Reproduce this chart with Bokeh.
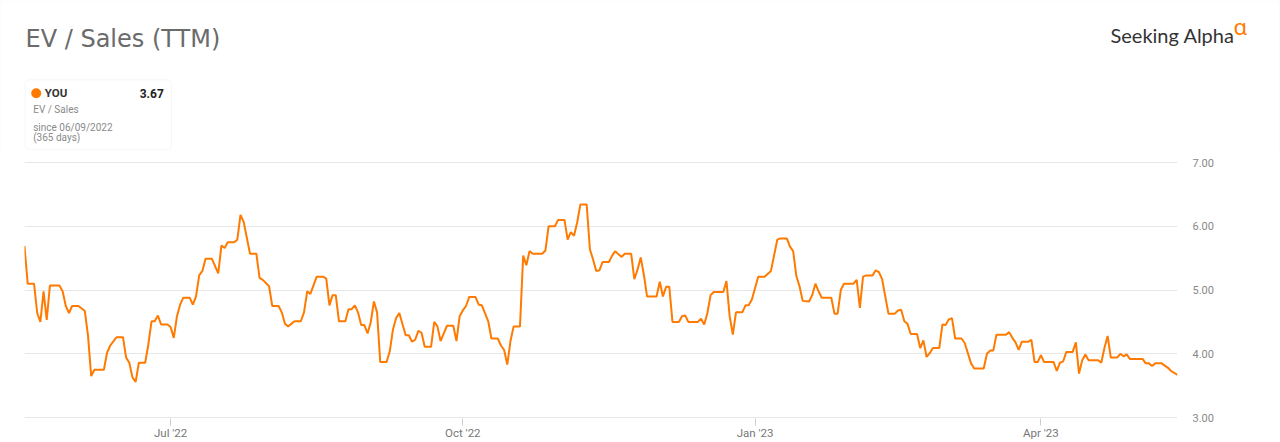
import pandas as pd
from bokeh.plotting import figure
from bokeh.layouts import column
from bokeh.models import (Range1d, Label, BoxAnnotation, DatetimeTickFormatter,
                          MonthsTicker, FixedTicker, NumeralTickFormatter, ColumnDataSource)
from bokeh.embed import file_html
from bokeh.resources import INLINE

# ---------------- data ----------------
start_date = "2022-05-16"
day_offsets = [0, 1, 3, 4, 5, 6, 7, 8, 11, 12, 13, 14, 15, 17, 19, 20, 21, 22, 25, 26, 27, 29, 31, 32, 33, 34, 35, 36,
               38, 39, 40, 41, 42, 43, 45, 46, 47, 48, 49, 50, 52, 53, 54, 55, 56, 57, 59, 61, 62, 63, 64, 66, 67, 68,
               69, 71, 73, 74, 75, 77, 78, 80, 81, 82, 83, 85, 87, 88, 89, 90, 92, 94, 95, 96, 97, 98, 99, 101, 102,
               103, 104, 105, 106, 107, 108, 109, 110, 111, 112, 114, 115, 116, 117, 118, 120, 121, 122, 123, 124,
               125, 126, 128, 129, 130, 131, 132, 133, 135, 136, 137, 138, 139, 140, 142, 143, 144, 146, 147, 149,
               150, 151, 152, 153, 154, 156, 157, 158, 159, 160, 163, 164, 165, 167, 168, 170, 171, 172, 173, 174,
               175, 177, 178, 179, 180, 181, 182, 184, 185, 186, 187, 188, 189, 191, 192, 193, 194, 195, 196, 199,
               200, 201, 202, 203, 204, 206, 207, 208, 209, 212, 213, 214, 215, 216, 217, 220, 221, 222, 223, 224,
               226, 227, 228, 229, 231, 233, 235, 237, 238, 240, 241, 242, 243, 244, 245, 247, 248, 249, 250, 251,
               254, 255, 256, 257, 258, 261, 262, 263, 264, 265, 267, 268, 269, 270, 272, 274, 275, 276, 277, 278,
               279, 281, 282, 283, 284, 285, 286, 288, 289, 290, 291, 292, 293, 295, 296, 297, 298, 299, 302, 303,
               304, 305, 306, 309, 310, 311, 312, 313, 314, 316, 317, 318, 319, 320, 321, 324, 325, 326, 327, 328,
               330, 331, 332, 333, 334, 335, 338, 339, 340, 341, 342, 344, 345, 346, 347, 348, 352, 353, 354, 355,
               356, 358, 360, 361, 363]
ev_sales = [5.69, 5.10, 5.10, 4.64, 4.50, 4.98, 4.53, 5.07, 5.07, 4.98, 4.75, 4.64, 4.75, 4.75, 4.67, 4.28, 3.65, 3.75,
            3.75, 4.02, 4.13, 4.26, 4.26, 3.94, 3.86, 3.63, 3.56, 3.86, 3.86, 4.15, 4.51, 4.51, 4.60, 4.46, 4.46, 4.42,
            4.25, 4.59, 4.77, 4.88, 4.88, 4.77, 4.90, 5.23, 5.30, 5.49, 5.49, 5.26, 5.70, 5.66, 5.75, 5.75, 5.79, 6.18,
            6.07, 5.57, 5.57, 5.19, 5.16, 5.06, 4.75, 4.75, 4.65, 4.47, 4.43, 4.51, 4.51, 4.65, 4.98, 4.94, 5.21, 5.21,
            5.18, 4.76, 4.92, 4.92, 4.51, 4.51, 4.70, 4.70, 4.76, 4.65, 4.45, 4.45, 4.32, 4.49, 4.82, 4.65, 3.87, 3.87,
            4.04, 4.38, 4.56, 4.64, 4.29, 4.29, 4.19, 4.22, 4.36, 4.33, 4.11, 4.11, 4.50, 4.43, 4.20, 4.32, 4.44, 4.44,
            4.20, 4.59, 4.68, 4.75, 4.89, 4.89, 4.77, 4.76, 4.51, 4.24, 4.24, 4.13, 4.06, 3.83, 4.20, 4.43, 4.43, 5.54,
            5.39, 5.61, 5.57, 5.57, 5.62, 6.00, 6.00, 6.10, 6.10, 5.79, 5.91, 5.85, 6.06, 6.34, 6.34, 5.64, 5.48, 5.30,
            5.31, 5.44, 5.44, 5.54, 5.61, 5.56, 5.52, 5.57, 5.57, 5.17, 5.32, 5.51, 5.24, 4.90, 4.90, 5.13, 4.90, 5.05,
            5.05, 4.50, 4.50, 4.59, 4.60, 4.50, 4.50, 4.55, 4.46, 4.64, 4.92, 4.97, 4.97, 5.14, 4.59, 4.30, 4.65, 4.65,
            4.76, 4.76, 4.85, 5.21, 5.21, 5.30, 5.79, 5.81, 5.81, 5.68, 5.61, 5.22, 5.06, 4.83, 4.82, 4.92, 5.10, 4.98,
            4.88, 4.88, 4.63, 4.63, 5.00, 5.10, 5.10, 5.16, 4.72, 5.21, 5.23, 5.23, 5.31, 5.28, 5.17, 4.63, 4.63, 4.68,
            4.69, 4.51, 4.47, 4.31, 4.31, 4.09, 4.21, 3.95, 4.01, 4.09, 4.09, 4.46, 4.45, 4.54, 4.56, 4.24, 4.24, 4.17,
            4.01, 3.85, 3.77, 3.77, 4.00, 4.05, 4.05, 4.30, 4.30, 4.34, 4.25, 4.18, 4.06, 4.19, 4.19, 4.22, 3.87, 3.87,
            3.98, 3.87, 3.87, 3.73, 3.86, 3.88, 4.03, 4.03, 4.18, 3.69, 3.90, 3.99, 3.90, 3.90, 3.86, 4.09, 4.28, 3.94,
            3.94, 4.00, 3.96, 3.99, 3.92, 3.92, 3.85, 3.85, 3.81, 3.85, 3.85, 3.78, 3.73, 3.67]
y_ticks = [3, 4, 5, 6, 7]
tick_months = [0, 3, 6, 9]
title_text = "EV / Sales (TTM)"
series_name = "YOU"
latest_value = "3.67"
metric_name = "EV / Sales"
since_text = "since 06/09/2022"
days_text = "(365 days)"
brand_text = "Seeking Alpha"
brand_mark = "\u03b1"

ORANGE = "#ff7a00"
HEADER_H = 155
TOTAL_H = 442
W = 1280

# ---------------- header (title, legend card, brand) ----------------
h = figure(width=W, height=HEADER_H, output_backend="svg", toolbar_location=None,
           x_axis_type=None, y_axis_type=None,
           x_range=Range1d(0, W), y_range=Range1d(HEADER_H, 0),
           min_border_left=0, min_border_right=0, min_border_top=0, min_border_bottom=0)
h.frame_align = False
h.outline_line_color = None
h.background_fill_color = "white"
h.border_fill_color = "white"
h.xgrid.grid_line_color = None
h.ygrid.grid_line_color = None

# faint card edge (top / left / right)
h.add_layout(BoxAnnotation(left=0.5, right=W - 0.5, top=0.5, bottom=HEADER_H + 20, fill_alpha=0,
                           line_color="#ececec", line_width=1))
h.add_layout(Label(x=25, y=38.5, text=title_text, text_font="DejaVu Sans", text_font_size="24px",
                   text_color="#6b6b6b", text_baseline="middle"))
h.add_layout(BoxAnnotation(left=24.7, right=171, top=79.3, bottom=149, fill_color="white", fill_alpha=1,
                           line_color="#e3e3e3", line_width=1, border_radius=4))
h.add_layout(BoxAnnotation(left=30.7, right=40.7, top=87.7, bottom=97.7, fill_color=ORANGE, fill_alpha=1,
                           line_color=None, border_radius=5))
h.add_layout(Label(x=44.3, y=92.7, text=series_name, text_font="Roboto", text_font_size="11.5px",
                   text_font_style="bold", text_color="#333333", text_baseline="middle"))
h.add_layout(Label(x=163.3, y=92.7, text=latest_value, text_font="Roboto", text_font_size="12px",
                   text_font_style="bold", text_color="#222222", text_baseline="middle", text_align="right"))
h.add_layout(Label(x=32.7, y=109.3, text=metric_name, text_font="Roboto", text_font_size="10px",
                   text_color="#8a8a8a", text_baseline="middle"))
h.add_layout(Label(x=32.7, y=126.7, text=since_text, text_font="Roboto", text_font_size="10px",
                   text_color="#8a8a8a", text_baseline="middle"))
h.add_layout(Label(x=32.7, y=136.7, text=days_text, text_font="Roboto", text_font_size="10px",
                   text_color="#8a8a8a", text_baseline="middle"))
h.add_layout(Label(x=1110, y=34.5, text=brand_text, text_font="Lato", text_font_size="20px",
                   text_color="#333333", text_baseline="middle"))
h.add_layout(Label(x=1233, y=25.5, text=brand_mark, text_font="Noto Sans", text_font_size="22px",
                   text_color=ORANGE, text_baseline="middle"))

# ---------------- chart ----------------
dates = pd.Timestamp(start_date) + pd.to_timedelta(day_offsets, unit="D")
src = ColumnDataSource(dict(date=dates, value=ev_sales))

p = figure(width=W, height=TOTAL_H - HEADER_H, x_axis_type="datetime", output_backend="svg",
           toolbar_location=None, y_axis_location="right",
           x_range=Range1d(dates[0], dates[-1]), y_range=Range1d(2.985, 7.032),
           min_border_left=24, min_border_right=103, min_border_top=160 - HEADER_H, min_border_bottom=24)
p.frame_align = False
p.outline_line_color = None
p.background_fill_color = "white"
p.border_fill_color = "white"

yax = p.yaxis[0]
yax.ticker = FixedTicker(ticks=y_ticks)
yax.formatter = NumeralTickFormatter(format="0.00")
yax.major_label_text_font = "Roboto"
yax.major_label_text_font_size = "11px"
yax.major_label_text_color = "#888888"
yax.major_label_standoff = 15
yax.major_tick_out = 0
yax.major_tick_in = 0
yax.major_tick_line_color = None
yax.minor_tick_line_color = None
yax.axis_line_color = None

xax = p.xaxis[0]
xax.ticker = MonthsTicker(months=tick_months)
xax.formatter = DatetimeTickFormatter(months="%b '%y", days="%b '%y", years="%b '%y")
xax.major_label_text_font = "Roboto"
xax.major_label_text_font_size = "11.5px"
xax.major_label_text_color = "#777777"
xax.major_label_standoff = 0
xax.major_tick_out = 7
xax.major_tick_in = 0
xax.major_tick_line_color = "#cccccc"
xax.minor_tick_line_color = None
xax.axis_line_color = None

p.xgrid.grid_line_color = None
p.ygrid.ticker = FixedTicker(ticks=y_ticks)
p.ygrid.grid_line_color = "#e6e6e6"
p.ygrid.grid_line_width = 1.2

p.line("date", "value", source=src, line_color=ORANGE, line_width=2)

page = column(h, p, spacing=0)
open("out.html", "w").write(file_html(page, INLINE))
